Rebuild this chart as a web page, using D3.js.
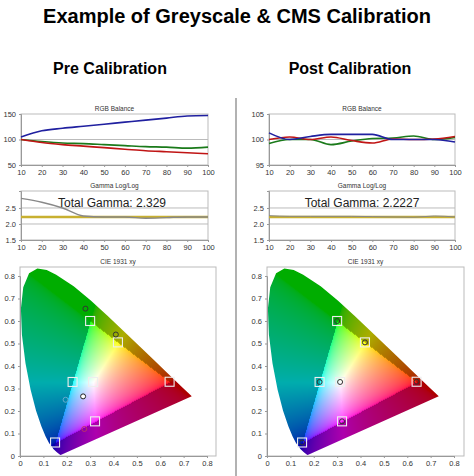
<!DOCTYPE html>
<html><head><meta charset="utf-8">
<script src="https://cdn.jsdelivr.net/npm/d3@7"></script>
<style>body{margin:0;background:#fff}svg{display:block;font-family:"Liberation Sans",Arial,sans-serif}</style>
</head><body><div id="chart"></div>
<script>
const steps = [10,20,30,40,50,60,70,80,90,100];
// RGB balance
const preRed   = [100,94,90,87,84,81,78,76,74,72];
const preGreen = [100,96,93,92,90,88,86,85,83,85];
const preBlue  = [105,117,122,126,130,134,138,142,146,147];
const postRed   = [100,100.5,100,100.5,99.8,99.3,100.1,100,100.1,100.6];
const postGreen = [99.2,100,100,99,99.7,100.2,100.3,100.7,100,100.4];
const postBlue  = [101.3,100,100.6,101,101,101,100,100,100,99.5];
// Gamma
const preGamma  = [2.8,2.68,2.5,2.25,2.22,2.22,2.18,2.2,2.22,2.22];
const postGamma = [2.26,2.24,2.24,2.24,2.24,2.23,2.22,2.21,2.25,2.22];
const targetGamma = 2.22;
// CIE
const locus = [[.1741,.0050],[.1714,.0051],[.1644,.0109],[.1566,.0177],[.1440,.0297],[.1241,.0578],[.1096,.0868],[.0913,.1327],[.0687,.2007],[.0454,.2950],[.0235,.4127],[.0082,.5384],[.0039,.6548],[.0139,.7502],[.0389,.8120],[.0743,.8338],[.1142,.8262],[.1547,.8059],[.2296,.7543],[.3016,.6923],[.3731,.6245],[.4441,.5547],[.5125,.4866],[.5752,.4242],[.6270,.3725],[.6915,.3083],[.7190,.2809],[.7347,.2653]];
const targets = [[.64,.33],[.30,.60],[.15,.06],[.225,.329],[.321,.154],[.419,.505],[.3127,.329]];
const preMeasured = [[.28,.655,"#333"],[.41,.54,"#333"],[.27,.265,"#fff"],[.195,.25,"#6ac"],[.275,.12,"#b36"]];
const postMeasured = [[.64,.33],[.30,.60],[.15,.06],[.225,.329],[.321,.154],[.419,.505],[.3127,.329]];

const svg = d3.select("#chart").append("svg").attr("width",474).attr("height",476);
svg.append("text").attr("x",237).attr("y",23).attr("text-anchor","middle")
  .attr("font-size",20).attr("font-weight","bold").text("Example of Greyscale & CMS Calibration");
svg.append("text").attr("x",110).attr("y",74).attr("text-anchor","middle")
  .attr("font-size",16).attr("font-weight","bold").text("Pre Calibration");
svg.append("text").attr("x",350).attr("y",74).attr("text-anchor","middle")
  .attr("font-size",16).attr("font-weight","bold").text("Post Calibration");
svg.append("line").attr("x1",236).attr("x2",236).attr("y1",98).attr("y2",476).attr("stroke","#999").attr("stroke-width",1.5);

// colour image of the xy plane
function xyColor(x, y) {
  const X = x / y, Z = (1 - x - y) / y;
  let r = 3.2406*X - 1.5372 - 0.4986*Z, g = -0.9689*X + 1.8758 + 0.0415*Z, b = 0.0557*X - 0.2040 + 1.0570*Z;
  let out = r < 0 || g < 0 || b < 0;
  r = Math.max(r,0); g = Math.max(g,0); b = Math.max(b,0);
  const m = Math.max(r,g,b) || 1;
  const f = out ? 0.68 : 1;
  return [r/m, g/m, b/m].map(v => 255 * f * Math.pow(v, 1/2.4));
}
function cieImage(w, h, xs, ys) {
  const c = document.createElement("canvas"); c.width = w; c.height = h;
  const ctx = c.getContext("2d"), img = ctx.createImageData(w, h);
  for (let j = 0; j < h; j++) for (let i = 0; i < w; i++) {
    const x = xs.invert(i), y = ys.invert(j), k = 4*(j*w+i);
    const col = y > 0.001 ? xyColor(x, y) : [0,0,0];
    img.data[k]=col[0]; img.data[k+1]=col[1]; img.data[k+2]=col[2]; img.data[k+3]=255;
  }
  ctx.putImageData(img, 0, 0);
  return c.toDataURL();
}

function linePanel(g, x0, x1, y0, y1, dom, ticks, title, series, lines) {
  const x = d3.scaleLinear().domain([10,100]).range([x0,x1]);
  const y = d3.scaleLinear().domain(dom).range([y1,y0]);
  g.append("rect").attr("x",x0).attr("y",y0).attr("width",x1-x0).attr("height",y1-y0)
    .attr("fill","#fff").attr("stroke","#bbb");
  lines.forEach(v => g.append("line").attr("x1",x0).attr("x2",x1).attr("y1",y(v)).attr("y2",y(v)).attr("stroke","#bbb"));
  g.append("text").attr("x",(x0+x1)/2).attr("y",y0-3).attr("text-anchor","middle").attr("font-size",6.5).attr("fill","#333").text(title);
  const ax = g.append("g").attr("transform",`translate(0,${y1})`).call(d3.axisBottom(x).tickValues(steps).tickSize(2));
  const ay = g.append("g").attr("transform",`translate(${x0},0)`).call(d3.axisLeft(y).tickValues(ticks).tickSize(2));
  [ax,ay].forEach(a => { a.select(".domain").attr("stroke","#999"); a.selectAll("text").attr("font-size",7.5).attr("fill","#333"); a.selectAll("line").attr("stroke","#999"); });
  const ln = d3.line().x((d,i) => x(steps[i])).y(d => y(d)).curve(d3.curveMonotoneX);
  series.forEach(s => g.append("path").attr("d",ln(s.v)).attr("fill","none").attr("stroke",s.c).attr("stroke-width",s.w||1.6));
}

function ciePanel(g, x0, x1, y0, y1, boxR, boxT, measured) {
  const xs = d3.scaleLinear().domain([0,0.8]).range([x0,x1]);
  const ys = d3.scaleLinear().domain([0,0.8]).range([y1,y0]);
  g.append("rect").attr("x",x0).attr("y",boxT).attr("width",boxR-x0).attr("height",y1-boxT).attr("fill","#fff").attr("stroke","#bbb");
  g.append("text").attr("x",(x0+boxR)/2).attr("y",boxT-3).attr("text-anchor","middle").attr("font-size",6.5).attr("fill","#333").text("CIE 1931 xy");
  const id = "clip" + x0;
  g.append("clipPath").attr("id",id).append("path").attr("d","M" + locus.map(p => [xs(p[0]),ys(p[1])]).join("L") + "Z");
  const w = Math.ceil(xs(0.75)-x0), h = Math.ceil(y1-ys(0.85));
  const img = cieImage(w, h, {invert: i => xs.invert(x0+i)}, {invert: j => ys.invert(ys(0.85)+j)});
  g.append("image").attr("href",img).attr("x",x0).attr("y",ys(0.85)).attr("width",w).attr("height",h).attr("clip-path",`url(#${id})`);
  targets.forEach(t => g.append("rect").attr("x",xs(t[0])-4.5).attr("y",ys(t[1])-4.5).attr("width",9).attr("height",9)
    .attr("fill","none").attr("stroke","#eee").attr("stroke-width",1.1));
  measured.forEach(m => g.append("circle").attr("cx",xs(m[0])).attr("cy",ys(m[1])).attr("r",2.5)
    .attr("fill", m[2] === "#fff" ? "#fff" : "none").attr("stroke", m[2] === "#fff" ? "#222" : (m[2]||"#333")).attr("stroke-width",1));
  const t = d3.range(0,0.81,0.1);
  const ax = g.append("g").attr("transform",`translate(0,${y1})`).call(d3.axisBottom(xs).tickValues(t).tickSize(2).tickFormat(d => d ? d3.format(".1f")(d) : "0"));
  const ay = g.append("g").attr("transform",`translate(${x0},0)`).call(d3.axisLeft(ys).tickValues(t).tickSize(2).tickFormat(d => d ? d3.format(".1f")(d) : "0"));
  [ax,ay].forEach(a => { a.select(".domain").attr("stroke","#999"); a.selectAll("text").attr("font-size",7.5).attr("fill","#333"); a.selectAll("line").attr("stroke","#999"); });
}

const L = svg.append("g"), R = svg.append("g");
linePanel(L, 21, 208, 114, 165, [50,150], [50,100,150], "RGB Balance",
  [{v:preGreen,c:"#1a7a1a"},{v:preRed,c:"#c01515"},{v:preBlue,c:"#2020a0"}], [100]);
linePanel(R, 269, 455, 114, 165, [95,105], [95,100,105], "RGB Balance",
  [{v:postGreen,c:"#1a7a1a"},{v:postRed,c:"#c01515"},{v:postBlue,c:"#2020a0"}], [100]);
linePanel(L, 21, 208, 191, 240, [1.5,3.03], [1.5,2,2.5], "Gamma Log/Log",
  [{v:steps.map(() => targetGamma),c:"#c8b030",w:2.5},{v:preGamma,c:"#888",w:1.4}], [2,2.5]);
linePanel(R, 269, 455, 191, 240, [1.5,3.03], [1.5,2,2.5], "Gamma Log/Log",
  [{v:steps.map(() => targetGamma),c:"#c8b030",w:2.5},{v:postGamma,c:"#888",w:1}], [2,2.5]);
L.append("text").attr("x",112).attr("y",207).attr("text-anchor","middle").attr("font-size",12).attr("fill","#222").text("Total Gamma: 2.329");
R.append("text").attr("x",362).attr("y",207).attr("text-anchor","middle").attr("font-size",12).attr("fill","#222").text("Total Gamma: 2.2227");
ciePanel(L, 20, 207, 276, 456, 216, 267, preMeasured);
ciePanel(R, 267, 454, 276, 456, 464, 267, postMeasured);
</script></body></html>
